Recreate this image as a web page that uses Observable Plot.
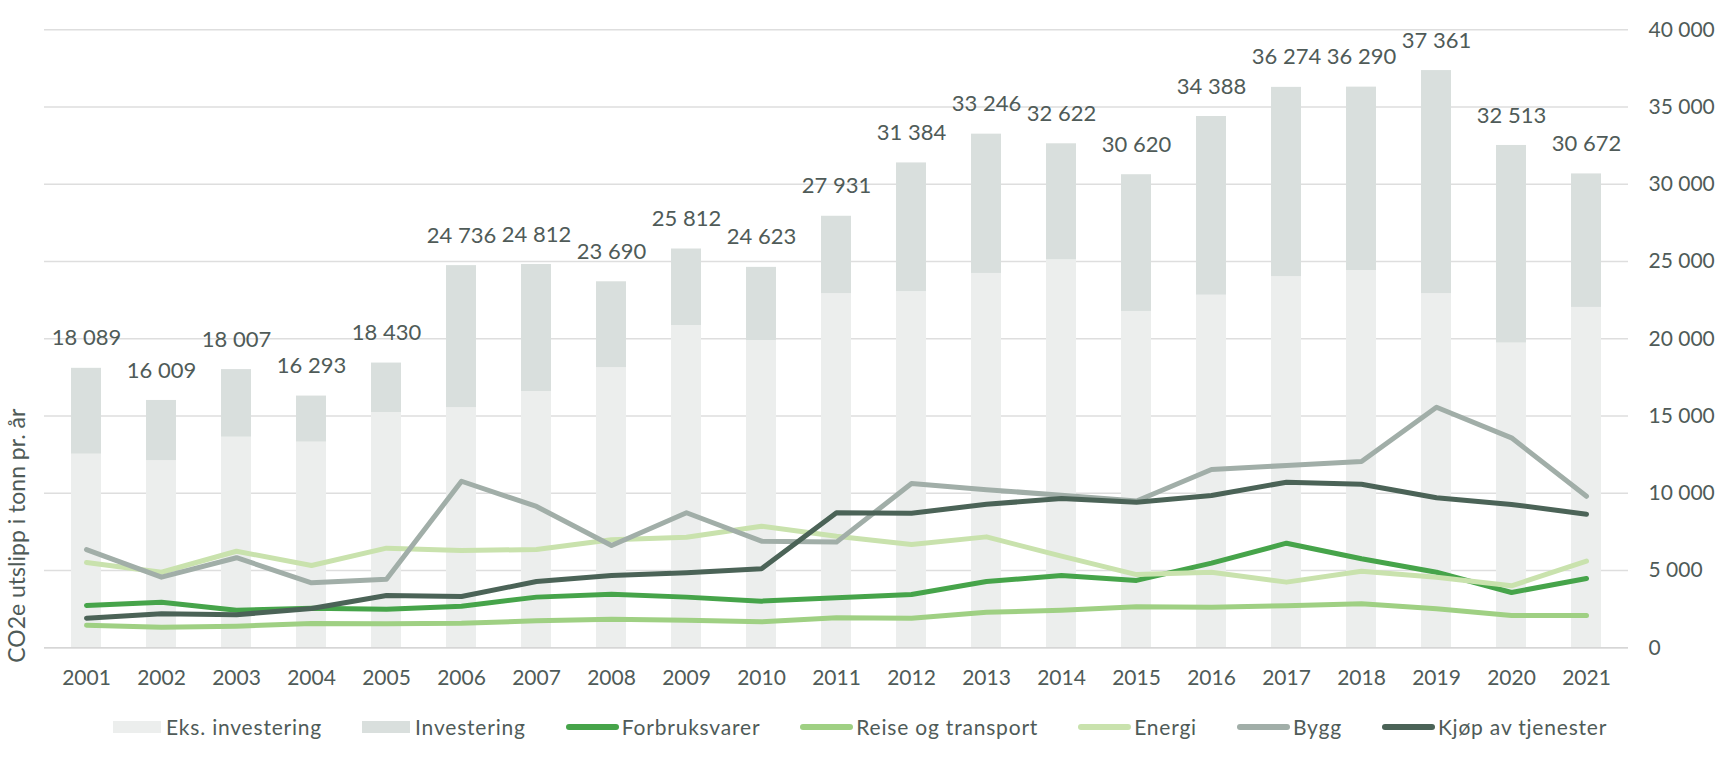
<!DOCTYPE html>
<html lang="no">
<head>
<meta charset="utf-8">
<script src="https://cdn.jsdelivr.net/npm/d3@7"></script>
<script src="https://cdn.jsdelivr.net/npm/@observablehq/plot@0.6"></script>
<style>
  html, body { margin: 0; padding: 0; background: #fff; }
  body { width: 1736px; font-family: Lato, "Open Sans", sans-serif; color: #4f5b58; }
  #legend {
    display: flex; align-items: center;
    padding: 14px 0 0 113px; height: 26px; font-size: 21px; line-height: 26px;
    letter-spacing: 0.8px;
  }
  .item { display: flex; align-items: center; margin-right: 40px; white-space: nowrap; }
  .box { width: 48px; height: 12px; margin-right: 5px; }
  .stroke { width: 53px; height: 5.5px; border-radius: 3px; margin-right: 3px; }
</style>
</head>
<body>
<div id="chart"></div>
<div id="legend"></div>
<script>
// Årlige utslipp (tonn CO2e), 2001–2021
const years = ["2001","2002","2003","2004","2005","2006","2007","2008","2009","2010","2011",
               "2012","2013","2014","2015","2016","2017","2018","2019","2020","2021"];

// Totalt per år (investering + eks. investering)
const totals = [18089,16009,18007,16293,18430,24736,24812,23690,25812,24623,27931,
                31384,33246,32622,30620,34388,36274,36290,37361,32513,30672];

// Utslipp utenom investering
const eksInvestering = [12530,12120,13630,13310,15230,15550,16590,18140,20860,19890,22930,
                        23060,24230,25110,21770,22820,24030,24420,22930,19720,22030];

// Kategorier
const forbruksvarer = [2740,2950,2430,2560,2500,2690,3280,3470,3280,3020,3240,
                       3450,4290,4680,4360,5480,6770,5760,4890,3580,4490];
const reiseOgTransport = [1460,1330,1400,1570,1550,1590,1750,1850,1790,1680,1940,
                          1920,2300,2430,2650,2630,2720,2850,2520,2090,2090];
const energi = [5520,4890,6250,5330,6450,6300,6360,6990,7160,7870,7220,
                6690,7180,5930,4740,4890,4250,4960,4570,4010,5610];
const bygg = [6360,4570,5830,4210,4440,10780,9150,6620,8740,6900,6840,
              10630,10230,9880,9500,11540,11800,12060,15570,13590,9810];
const kjopAvTjenester = [1920,2200,2140,2540,3390,3320,4290,4680,4850,5110,8740,
                         8710,9290,9660,9420,9860,10720,10590,9710,9280,8650];

const yTicks = [0,5000,10000,15000,20000,25000,30000,35000,40000];

const barNames = ["Eks. investering", "Investering"];
const lineNames = ["Forbruksvarer", "Reise og transport", "Energi", "Bygg", "Kjøp av tjenester"];
const colors = ["#eceeed", "#d9dfdd", "#46a44a", "#9fd083", "#c9e2ad", "#a1aea8", "#4b6357"];

const textColor = "#4f5b58";
const fmt = d3.formatLocale({decimal: ",", thousands: " ", grouping: [3], currency: ["", ""]}).format(",d");

// Stablede søyler: eks. investering nederst, investering (rest av totalen) øverst
const barRows = years.flatMap((year, i) => [
  {year, kind: barNames[0], value: eksInvestering[i]},
  {year, kind: barNames[1], value: totals[i] - eksInvestering[i]}
]);
const totalRows = years.map((year, i) => ({year, total: totals[i]}));

const lineSeries = [forbruksvarer, reiseOgTransport, energi, bygg, kjopAvTjenester];
const lineRows = lineNames.flatMap((name, s) =>
  years.map((year, i) => ({year, series: name, value: lineSeries[s][i]})));

const chart = Plot.plot({
  width: 1736,
  height: 700,
  marginTop: 29.3,
  marginBottom: 52.7,
  marginLeft: 44,
  marginRight: 108,
  style: {fontFamily: "Lato, 'Open Sans', sans-serif", fontSize: "21px", color: textColor, background: "#fff"},
  x: {type: "band", domain: years, paddingInner: 0.6, paddingOuter: 0.3, label: null},
  y: {domain: [0, 40000], label: null},
  color: {domain: [...barNames, ...lineNames], range: colors},
  marks: [
    Plot.gridY(yTicks, {stroke: "#dedede", strokeOpacity: 1, strokeWidth: 1.5}),
    Plot.barY(barRows, {x: "year", y: "value", fill: "kind", order: barNames}),
    Plot.ruleY([0], {stroke: "#d6d6d6", strokeWidth: 1.5}),
    Plot.line(lineRows, {
      x: "year", y: "value", z: "series", stroke: "series",
      strokeWidth: 5, strokeLinecap: "round", strokeLinejoin: "round"
    }),
    Plot.text(totalRows, {
      x: "year", y: "total", text: d => fmt(d.total),
      dy: -30, fontSize: 22, fill: textColor
    }),
    Plot.axisX({tickSize: 0, tickPadding: 22, fontSize: 21, label: null}),
    Plot.axisY(yTicks, {anchor: "right", tickSize: 0, tickPadding: 20, tickFormat: fmt, fontSize: 21, label: null}),
    Plot.text(["CO2e utslipp i tonn pr. år"], {
      frameAnchor: "bottom-left", rotate: -90, textAnchor: "start",
      dx: -19.5, dy: 15, fontSize: 23, fill: textColor, letterSpacing: "0.4px"
    })
  ]
});
document.getElementById("chart").append(chart);

// Forklaring under diagrammet
const legend = document.getElementById("legend");
[...barNames, ...lineNames].forEach((name, i) => {
  const item = document.createElement("div");
  item.className = "item";
  const key = document.createElement("span");
  key.className = i < barNames.length ? "box" : "stroke";
  key.style.background = colors[i];
  const label = document.createElement("span");
  label.textContent = name;
  item.append(key, label);
  legend.append(item);
});
</script>
</body>
</html>
